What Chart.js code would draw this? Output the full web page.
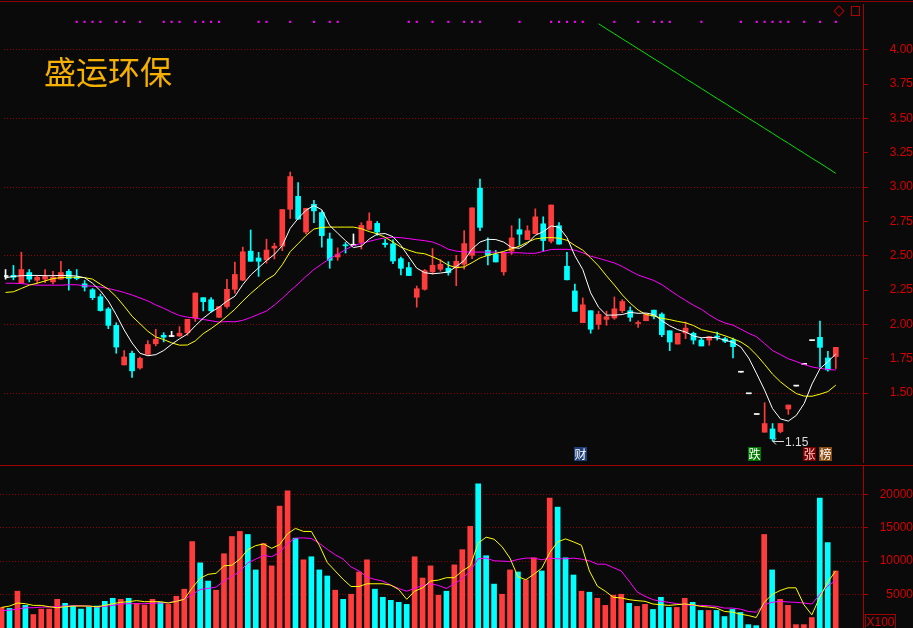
<!DOCTYPE html>
<html lang="zh">
<head>
<meta charset="UTF-8">
<title>盛运环保</title>
<script src="https://cdn.jsdelivr.net/npm/chart.js"></script>
<style>
    body { margin: 0; background: #0a0a0a; }
    #wrap { position: relative; width: 913px; height: 628px; overflow: hidden; background: #0a0a0a; }
    canvas { position: absolute; left: 0; }
    #priceChart { top: 0; }
    #volChart { top: 466px; }
    .title { position: absolute; left: 44px; top: 54px; font-size: 32px; line-height: 32px; font-family: "Noto Sans CJK SC"; color: #f5b000; }
    .topline { position: absolute; left: 0; top: 1px; width: 913px; height: 1px; background: #8b0000; }
    .sepline { position: absolute; left: 0; top: 465px; width: 913px; height: 1px; background: #a00000; }
    .x100 { position: absolute; left: 865px; top: 614px; width: 31px; height: 16px; border: 1px solid #a00000; color: #d80000; font: 12px "Liberation Sans", Arial; line-height: 14px; text-align: center; box-sizing: border-box; }
    .diamond { position: absolute; left: 835px; top: 7px; width: 6px; height: 6px; border: 1px solid #b00000; transform: rotate(45deg); }
    .icon { position: absolute; left: 851px; top: 6px; width: 9px; height: 10px; border: 1px solid #b00000; box-sizing: border-box; }
</style>
</head>
<body>
<div id="wrap">
    <canvas id="priceChart" width="913" height="466"></canvas>
    <canvas id="volChart" width="913" height="162"></canvas>
    <div class="topline"></div>
    <div class="sepline"></div>
    <div class="title">盛运环保</div>
    <div class="x100">X100</div>
    <div class="diamond"></div>
    <div class="icon"></div>
</div>
<script>
// daily candles, oldest first
const opens = [
    2.349,2.358,2.30,2.378,2.322,2.33,2.31,2.33,2.387,2.344,
    2.296,2.253,2.202,2.113,1.993,1.705,1.79,1.683,1.782,1.859,
    1.921,1.912,1.916,1.94,2.046,2.195,2.18,2.052,2.131,2.256,
    2.323,2.534,2.484,2.47,2.556,2.57,2.839,2.933,2.673,2.875,
    2.815,2.623,2.491,2.58,2.577,2.597,2.693,2.736,2.592,2.587,
    2.479,2.414,2.198,2.256,2.383,2.402,2.409,2.412,2.438,2.503,
    2.993,2.539,2.51,2.383,2.534,2.69,2.618,2.661,2.733,2.606,
    2.719,2.424,2.244,2.013,2.10,2.0,2.037,2.047,2.10,2.10,
    2.007,2.027,2.104,2.075,1.954,1.857,1.937,1.935,1.886,1.886,
    1.915,1.896,1.886,1.652,1.495,1.344,1.215,1.239,1.22,1.384,
    1.551,1.709,1.882,1.906,1.756,1.766
];
const highs = [
    2.40,2.43,2.526,2.40,2.354,2.40,2.387,2.459,2.40,2.40,
    2.32,2.262,2.221,2.123,2.012,1.81,1.806,1.763,1.883,1.964,
    1.94,1.95,1.984,2.037,2.229,2.195,2.195,2.13,2.328,2.455,
    2.563,2.688,2.525,2.621,2.592,2.837,3.11,3.034,2.846,2.904,
    2.827,2.666,2.558,2.597,2.659,2.741,2.813,2.75,2.62,2.616,
    2.491,2.452,2.28,2.40,2.553,2.472,2.457,2.503,2.683,2.849,
    3.058,2.63,2.539,2.525,2.719,2.77,2.719,2.842,2.784,2.87,
    2.741,2.525,2.294,2.193,2.10,2.097,2.097,2.20,2.181,2.128,
    2.027,2.075,2.104,2.085,1.954,1.935,2.017,1.944,1.90,1.911,
    1.944,1.906,1.90,1.652,1.495,1.344,1.43,1.278,1.278,1.413,
    1.551,1.709,1.882,2.024,1.804,1.833
];
const lows = [
    2.33,2.325,2.30,2.31,2.30,2.305,2.296,2.33,2.25,2.325,
    2.243,2.18,2.097,1.969,1.79,1.705,1.614,1.674,1.782,1.844,
    1.873,1.912,1.912,1.921,2.022,2.099,2.089,2.052,2.119,2.227,
    2.318,2.46,2.35,2.446,2.477,2.537,2.772,2.767,2.659,2.741,
    2.563,2.409,2.467,2.52,2.577,2.549,2.688,2.649,2.563,2.443,
    2.361,2.356,2.126,2.25,2.366,2.388,2.359,2.282,2.402,2.479,
    2.683,2.433,2.455,2.359,2.51,2.575,2.618,2.661,2.534,2.594,
    2.585,2.325,2.095,2.013,1.936,1.965,1.994,2.037,2.085,2.023,
    1.978,2.027,2.041,1.911,1.809,1.857,1.896,1.857,1.843,1.848,
    1.886,1.867,1.756,1.652,1.495,1.344,1.215,1.15,1.21,1.345,
    1.551,1.709,1.882,1.688,1.659,1.679
];
const closes = [
    2.349,2.344,2.40,2.33,2.344,2.349,2.344,2.378,2.334,2.334,
    2.272,2.195,2.101,1.993,1.835,1.763,1.662,1.753,1.854,1.892,
    1.907,1.912,1.936,2.037,2.229,2.166,2.099,2.13,2.256,2.364,
    2.529,2.46,2.46,2.542,2.57,2.837,3.077,2.767,2.846,2.827,
    2.647,2.467,2.51,2.573,2.577,2.721,2.753,2.673,2.582,2.462,
    2.409,2.356,2.26,2.392,2.431,2.438,2.378,2.46,2.589,2.849,
    2.707,2.503,2.455,2.525,2.63,2.657,2.683,2.784,2.611,2.87,
    2.585,2.325,2.095,2.143,1.965,2.073,2.056,2.114,2.167,2.052,
    2.012,2.075,2.06,1.925,1.872,1.935,1.973,1.886,1.843,1.911,
    1.908,1.877,1.838,1.652,1.495,1.344,1.278,1.167,1.278,1.413,
    1.551,1.709,1.882,1.833,1.669,1.833
];
// moving averages as drawn (white, yellow, magenta, green)
const ma5 = [
    2.34,2.35,2.355,2.357,2.357,2.355,2.355,2.357,2.357,2.352,
    2.34,2.30,2.245,2.17,2.07,1.96,1.865,1.79,1.772,1.78,
    1.81,1.855,1.895,1.93,1.99,2.045,2.09,2.125,2.17,2.205,
    2.29,2.36,2.412,2.465,2.51,2.574,2.70,2.772,2.832,2.866,
    2.835,2.72,2.665,2.61,2.56,2.57,2.622,2.658,2.662,2.639,
    2.576,2.492,2.41,2.377,2.369,2.374,2.382,2.422,2.465,2.55,
    2.60,2.62,2.618,2.60,2.56,2.555,2.59,2.65,2.675,2.718,
    2.708,2.633,2.50,2.40,2.23,2.125,2.068,2.068,2.072,2.088,
    2.081,2.083,2.072,2.027,1.99,1.962,1.945,1.916,1.903,1.907,
    1.902,1.885,1.87,1.835,1.754,1.64,1.521,1.387,1.312,1.296,
    1.337,1.424,1.567,1.678,1.729,1.785
];
const ma10 = [
    2.233,2.238,2.262,2.286,2.30,2.317,2.334,2.341,2.344,2.344,
    2.341,2.33,2.293,2.257,2.202,2.133,2.06,2.005,1.95,1.909,
    1.89,1.866,1.849,1.85,1.88,1.933,1.97,2.012,2.06,2.11,
    2.17,2.225,2.275,2.325,2.36,2.435,2.53,2.588,2.647,2.695,
    2.707,2.709,2.709,2.709,2.709,2.697,2.676,2.66,2.635,2.60,
    2.563,2.54,2.522,2.515,2.493,2.467,2.431,2.414,2.419,2.45,
    2.484,2.503,2.517,2.532,2.551,2.57,2.599,2.623,2.63,2.633,
    2.628,2.613,2.575,2.541,2.485,2.426,2.354,2.287,2.215,2.155,
    2.105,2.072,2.062,2.045,2.035,2.022,2.012,1.992,1.962,1.949,
    1.936,1.917,1.896,1.872,1.834,1.776,1.709,1.638,1.582,1.537,
    1.497,1.478,1.477,1.492,1.511,1.558
];
const ma20 = [
    2.30,2.30,2.298,2.291,2.286,2.286,2.286,2.286,2.289,2.289,
    2.281,2.279,2.272,2.262,2.248,2.233,2.214,2.193,2.171,2.142,
    2.118,2.089,2.065,2.053,2.046,2.036,2.027,2.017,2.021,2.019,
    2.03,2.05,2.074,2.098,2.141,2.19,2.245,2.295,2.35,2.40,
    2.44,2.48,2.51,2.545,2.575,2.59,2.605,2.62,2.63,2.635,
    2.632,2.625,2.617,2.61,2.60,2.578,2.548,2.534,2.528,2.527,
    2.527,2.527,2.526,2.523,2.522,2.522,2.518,2.518,2.532,2.546,
    2.547,2.547,2.541,2.522,2.497,2.482,2.465,2.448,2.422,2.39,
    2.36,2.34,2.32,2.29,2.25,2.21,2.175,2.14,2.11,2.07,
    2.035,2.01,1.995,1.965,1.935,1.91,1.86,1.81,1.78,1.75,
    1.73,1.708,1.69,1.68,1.672,1.668
];
const ma60Start = 75;
const ma60 = [
    4.19,4.153,4.117,4.08,4.045,4.008,3.972,3.935,3.90,3.863,
    3.827,3.79,3.755,3.718,3.682,3.645,3.61,3.573,3.537,3.50,
    3.465,3.428,3.392,3.355,3.32,3.283,3.247,3.21,3.175,3.138,
    3.10
];
const volumes = [
    3081,2929,5505,3384,2020,2828,2828,4293,3687,3283,
    2828,3131,3283,3990,4444,4293,4444,3687,3434,4293,
    3838,3535,4747,5808,12929,9747,7020,5657,11111,13687,
    14444,13990,8687,12626,9293,18232,20505,13434,10202,10656,
    8687,7778,5657,4293,5050,8384,10202,5808,4596,4141,
    3838,3535,10656,7475,9293,4899,5505,9444,11717,15202,
    21566,10808,6566,5050,8687,8384,7172,10505,8535,19444,
    18081,10505,7929,5505,5353,4444,3384,4899,5050,3687,
    3232,3535,2778,4596,3081,3081,4444,3838,2626,2626,
    2626,1717,2778,2323,505,354,13990,8687,4293,3384,
    505,505,1566,19444,12778,8535
];
const volMa5 = [
    3081,3283,3737,3636,3384,3384,3182,3030,3182,3283,
    3283,3283,3182,3384,3636,3838,3939,4091,3939,3939,
    3939,3737,3990,4293,6010,7424,8030,8182,9293,9394,
    10303,11717,12323,12576,11919,12475,14091,14899,14444,14444,
    12374,9798,8535,7272,6212,6212,6616,6616,6616,6414,
    5757,4293,5505,6010,7020,7172,7525,7525,8535,9293,
    12677,13586,13283,12172,10454,7677,7222,8030,8939,11262,
    12879,13333,12879,12374,8535,6262,5505,4596,4495,4242,
    4091,3990,3586,3485,3384,3485,3586,3485,3232,3131,
    2980,2475,2374,2071,1869,1566,3838,5000,5606,6010,
    6010,3485,1970,4596,6868,8535
];
const volMa10 = [
    2576,2677,2828,3030,3030,3131,3131,3232,3283,3333,
    3333,3283,3131,3232,3384,3586,3636,3636,3636,3687,
    3737,3788,4040,4293,5000,5757,5909,6111,7020,7727,
    8434,9747,10303,10859,10656,11313,12626,13434,13485,13384,
    12677,11768,10960,10303,9141,8535,7626,7272,7020,6414,
    5909,5505,5909,6363,6616,6363,5909,6616,7374,8535,
    10353,10454,10050,10000,9949,10252,10454,10454,10202,10454,
    10353,10353,10454,10303,10050,9545,9545,9040,8535,7020,
    5404,4747,4242,3990,3838,3636,3485,3384,3384,3333,
    3232,2980,2980,2828,2475,2374,3485,3838,3990,3889,
    3838,3737,3586,5000,6263,7121
];
const priceTicks = [1.50, 1.75, 2.00, 2.25, 2.50, 2.75, 3.00, 3.25, 3.50, 3.75, 4.00];
const volTicks = [5000, 10000, 15000, 20000];
// signal dots along the top and event tags under the candles
const markerIdx = [9,10,11,12,14,15,17,20,21,22,24,25,26,27,32,33,36,39,41,42,51,52,54,56,58,59,60,65,69,70,71,72,73,77,80,82,83,84,88,93,95,96,97,98,99,101,103,105];
const eventIdx = [72, 94, 101, 103];
const eventText = ['财', '跌', '张', '榜'];
const lowMarkIdx = 97;

const RED = '#ff3c3c', CYAN = '#00ffff', WHITE = '#ffffff';
const AXIS_RED = '#a80000', GRID_RED = '#8a0000', LABEL_RED = '#d80000';
const eventBg = ['#1f3f78', '#007800', '#780000', '#8a4a10'];
const eventFg = ['#ffffff', '#ffffff', '#ffc8c8', '#ffffff'];
const MARK_LEVEL = 4.204;

const idx = opens.map((_, i) => i);
const candleColor = i => closes[i] > opens[i] ? RED : closes[i] < opens[i] ? CYAN : WHITE;
const volColor = i => closes[i] > opens[i] ? RED : closes[i] < opens[i] ? CYAN
    : (i === 0 || closes[i] >= closes[i - 1] ? RED : CYAN);

function lineSet(arr, color, start) {
    start = start || 0;
    return {
        type: 'line',
        data: arr.map((v, k) => ({ x: k + start, y: v })),
        borderColor: color,
        borderWidth: 1,
        pointRadius: 0,
        order: 0
    };
}

const xScale = { type: 'linear', min: -0.196, max: 108.44, offset: false, display: false };
const tickFont = { family: '"Liberation Sans", Arial', size: 12 };

function yAxis(min, max, ticks, pad, fmt) {
    return {
        position: 'right',
        min: min,
        max: max,
        afterBuildTicks: s => { s.ticks = ticks.map(v => ({ value: v })); },
        afterFit: s => { s.width = 50; s.paddingTop = 0; s.paddingBottom = 0; },
        ticks: { color: LABEL_RED, font: tickFont, padding: pad, crossAlign: 'far', autoSkip: false, callback: fmt },
        grid: { color: c => c.tick ? c.tickColorOverride || GRID_RED : GRID_RED, tickColor: AXIS_RED, tickLength: 5, lineWidth: 1 },
        border: { color: AXIS_RED, width: 1, dash: [1, 2] }
    };
}

const marksPlugin = {
    id: 'marks',
    afterDatasetsDraw(chart) {
        const { ctx, chartArea } = chart;
        const x = chart.scales.x, y = chart.scales.y;
        ctx.save();
        // lowest price tag
        const lx = Math.round(x.getPixelForValue(lowMarkIdx));
        const ly = Math.round(y.getPixelForValue(lows[lowMarkIdx])) + 0.5;
        ctx.strokeStyle = '#dcdcdc';
        ctx.lineWidth = 1;
        ctx.beginPath();
        ctx.moveTo(lx, ly); ctx.lineTo(lx + 11, ly);
        ctx.moveTo(lx, ly); ctx.lineTo(lx + 3, ly - 3);
        ctx.moveTo(lx, ly); ctx.lineTo(lx + 3, ly + 3);
        ctx.stroke();
        ctx.fillStyle = '#dcdcdc';
        ctx.font = '12px "Liberation Sans", Arial';
        ctx.textBaseline = 'middle';
        ctx.fillText(lows[lowMarkIdx].toFixed(2), lx + 12, ly + 1);
        // event tags
        ctx.font = '12px "Noto Sans CJK SC"';
        ctx.textAlign = 'center';
        eventIdx.forEach((ei, k) => {
            const ex = Math.round(x.getPixelForValue(ei)) - 1;
            const ey = chartArea.bottom - 15;
            ctx.fillStyle = eventBg[k];
            ctx.fillRect(ex, ey, 13, 14);
            ctx.fillStyle = eventFg[k];
            ctx.fillText(eventText[k], ex + 6.5, ey + 7.5);
        });
        ctx.restore();
    }
};

const priceY = yAxis(0.998, 4.334, priceTicks, 17, v => v.toFixed(2));
priceY.grid.color = c => (c.tick && Math.round(c.tick.value * 100) % 50 === 0) ? GRID_RED : 'rgba(0,0,0,0)';

new Chart(document.getElementById('priceChart'), {
    type: 'bar',
    data: {
        datasets: [
            lineSet(ma5, '#ffffff'),
            lineSet(ma10, '#ffff00'),
            lineSet(ma20, '#ff00ff'),
            lineSet(ma60, '#00e000', ma60Start),
            {
                type: 'line',
                showLine: false,
                data: markerIdx.map(i => ({ x: i, y: MARK_LEVEL })),
                pointStyle: 'rect',
                pointRadius: 1.5,
                pointBorderWidth: 0,
                pointBackgroundColor: '#ff00ff',
                order: 0
            },
            {
                data: idx.map(i => ({ x: i, y: [opens[i], closes[i]] })),
                backgroundColor: idx.map(candleColor),
                barThickness: 5,
                minBarLength: 1,
                grouped: false,
                order: 1
            },
            {
                data: idx.map(i => ({ x: i, y: [lows[i], highs[i]] })),
                backgroundColor: idx.map(candleColor),
                barThickness: 1,
                grouped: false,
                order: 2
            }
        ]
    },
    options: {
        responsive: false,
        animation: false,
        layout: { padding: { top: 2, bottom: 1, left: 0, right: 0 } },
        plugins: { legend: { display: false }, tooltip: { enabled: false } },
        scales: { x: xScale, y: priceY }
    },
    plugins: [marksPlugin]
});

new Chart(document.getElementById('volChart'), {
    type: 'bar',
    data: {
        datasets: [
            lineSet(volMa5, '#ffff00'),
            lineSet(volMa10, '#ff00ff'),
            {
                data: idx.map(i => ({ x: i, y: volumes[i] })),
                backgroundColor: idx.map(volColor),
                barThickness: 5,
                grouped: false,
                order: 1
            }
        ]
    },
    options: {
        responsive: false,
        animation: false,
        layout: { padding: 0 },
        plugins: { legend: { display: false }, tooltip: { enabled: false } },
        scales: { x: xScale, y: yAxis(0, 24233, volTicks, 7, v => String(v)) }
    }
});
</script>
</body>
</html>
